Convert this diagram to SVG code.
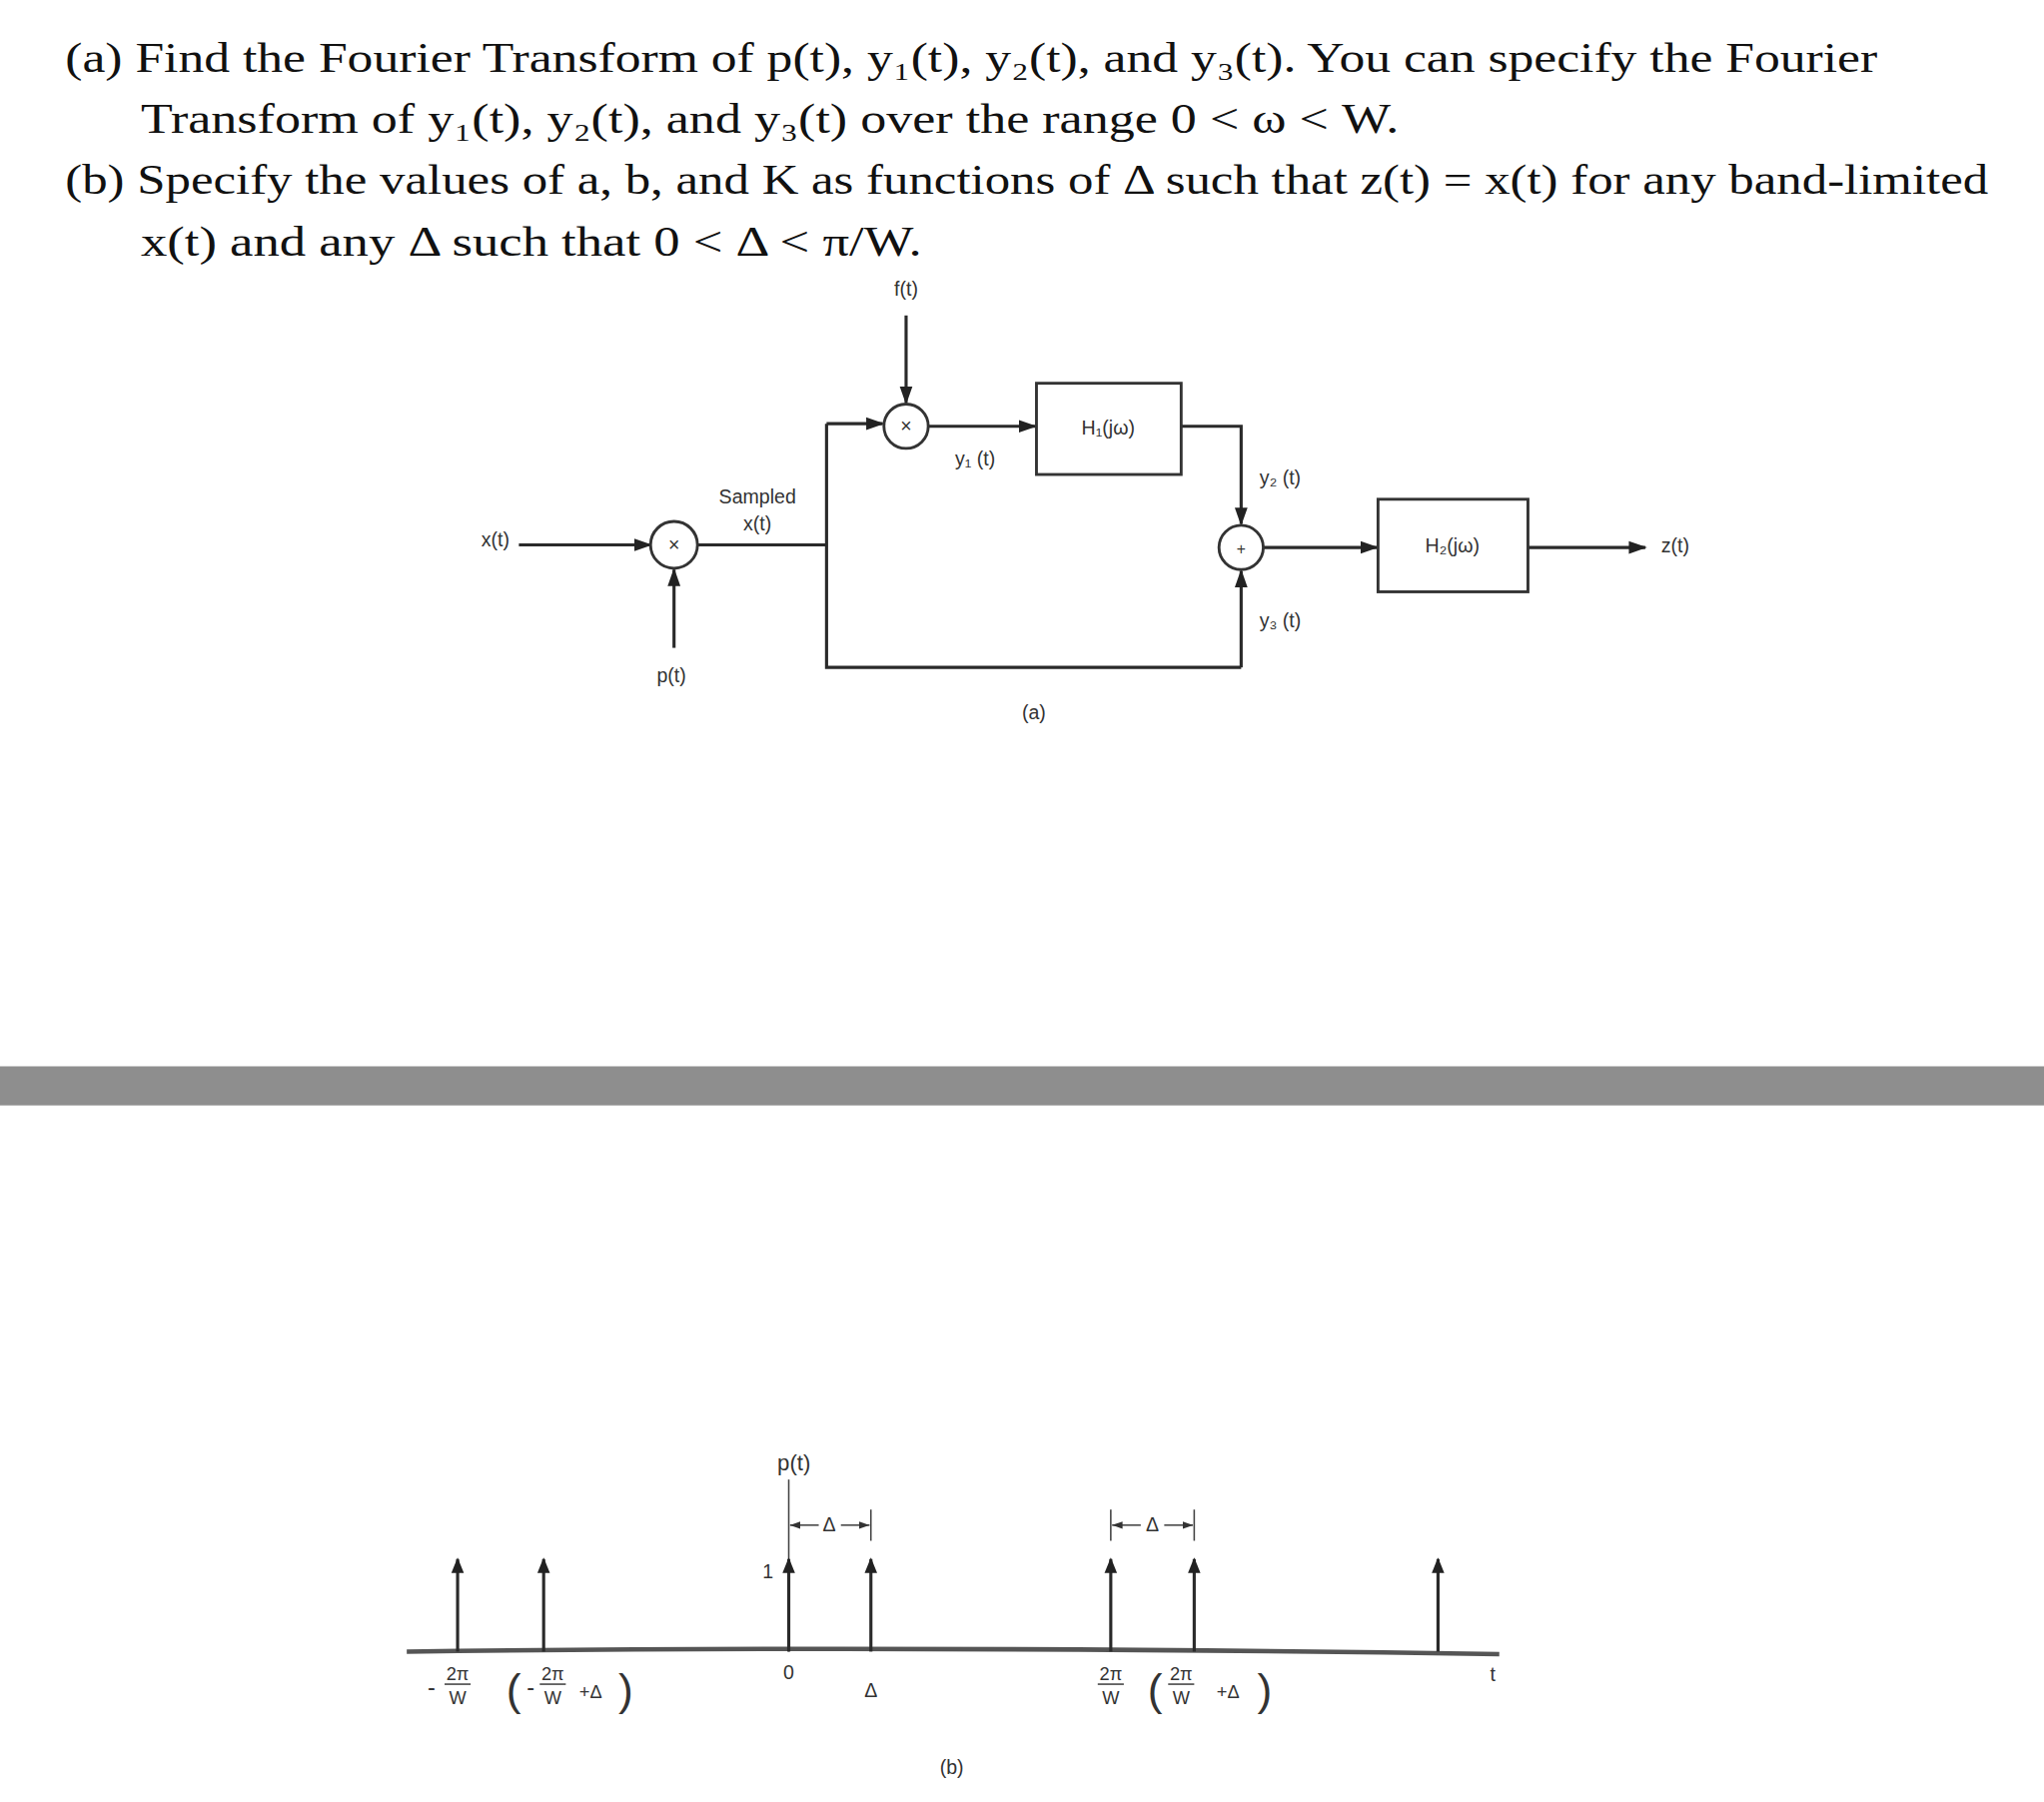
<svg xmlns="http://www.w3.org/2000/svg" width="2046" height="1804" viewBox="0 0 2046 1804">
<style>
.q{font-family:"Liberation Serif","DejaVu Serif",serif;font-size:32px;fill:#111}
.d{font-family:"Liberation Sans",Arial,sans-serif;font-size:15px;fill:#333;text-anchor:middle}
.ln{stroke:#2a2a2a;stroke-width:2.4;fill:none}
.th{stroke:#444;stroke-width:1.2;fill:none}
.bx{stroke:#333;stroke-width:2.2;fill:#fff}
</style>
<defs>
<marker id="ah" viewBox="0 0 10 10" refX="9" refY="5" markerWidth="12" markerHeight="12" orient="auto" markerUnits="userSpaceOnUse"><path d="M0,1 L10,5 L0,9 z" fill="#222"/></marker>
<marker id="ah2" viewBox="0 0 10 10" refX="9" refY="5" markerWidth="14" markerHeight="14" orient="auto" markerUnits="userSpaceOnUse"><path d="M0,1.5 L10,5 L0,8.5 z" fill="#222"/></marker>
<marker id="sa" viewBox="0 0 10 10" refX="10" refY="5" markerWidth="8" markerHeight="8" orient="auto" markerUnits="userSpaceOnUse"><path d="M0,1.5 L10,5 L0,8.5 z" fill="#333"/></marker>
</defs>
<rect width="2046" height="1804" fill="#fff"/>
<g transform="scale(1.305)">
<g id="question">
<text class="q" x="50" y="55" textLength="1390" lengthAdjust="spacingAndGlyphs">(a) Find the Fourier Transform of p(t), y₁(t), y₂(t), and y₃(t). You can specify the Fourier</text>
<text class="q" x="108" y="102" textLength="965" lengthAdjust="spacingAndGlyphs">Transform of y₁(t), y₂(t), and y₃(t) over the range 0 &lt; ω &lt; W.</text>
<text class="q" x="50" y="149" textLength="1475" lengthAdjust="spacingAndGlyphs">(b) Specify the values of a, b, and K as functions of Δ such that z(t) = x(t) for any band-limited</text>
<text class="q" x="108" y="196" textLength="599" lengthAdjust="spacingAndGlyphs">x(t) and any Δ such that 0 &lt; Δ &lt; π/W.</text>
</g>
<g id="connectors">
<path class="ln" d="M398,418 H499" marker-end="url(#ah2)"/>
<path class="ln" d="M517,497 V437" marker-end="url(#ah2)"/>
<path class="ln" d="M535,418 H634 M634,325 V512 H952"/>
<path class="ln" d="M634,325 H677" marker-end="url(#ah2)"/>
<path class="ln" d="M695,242 V309" marker-end="url(#ah2)"/>
<path class="ln" d="M712,327 H794" marker-end="url(#ah2)"/>
<path class="ln" d="M906,327 H952 V402" marker-end="url(#ah2)"/>
<path class="ln" d="M952,512 V438" marker-end="url(#ah2)"/>
<path class="ln" d="M969,420 H1056" marker-end="url(#ah2)"/>
<path class="ln" d="M1172,420 H1262" marker-end="url(#ah2)"/>
</g>
<g id="mult1"><circle class="bx" cx="517" cy="418" r="18"/><text class="d" x="517" y="423">×</text></g>
<g id="mult2"><circle class="bx" cx="695" cy="327" r="17"/><text class="d" x="695" y="332">×</text></g>
<g id="adder"><circle class="bx" cx="952" cy="420" r="17"/><text class="d" x="952" y="425" style="font-size:12px">+</text></g>
<g id="h1"><rect class="bx" x="795" y="294" width="111" height="70"/><text class="d" x="850" y="333">H₁(jω)</text></g>
<g id="h2"><rect class="bx" x="1057" y="383" width="115" height="71"/><text class="d" x="1114" y="424">H₂(jω)</text></g>
<g id="labels-a">
<text class="d" x="380" y="419">x(t)</text>
<text class="d" x="515" y="523">p(t)</text>
<text class="d" x="581" y="386">Sampled</text>
<text class="d" x="581" y="407">x(t)</text>
<text class="d" x="695" y="227">f(t)</text>
<text class="d" x="748" y="357">y₁ (t)</text>
<text class="d" x="982" y="372">y₂ (t)</text>
<text class="d" x="982" y="481">y₃ (t)</text>
<text class="d" x="1285" y="424">z(t)</text>
<text class="d" x="793" y="552">(a)</text>
</g>
<rect id="divider" x="0" y="818" width="1568" height="30" fill="#8e8e8e"/>
<g id="plot-b">
<path d="M312,1267 Q700,1262 1150,1269" stroke="#555" stroke-width="3.5" fill="none"/>
<path class="th" d="M605,1267 V1135"/>
<g class="ln">
<path d="M351,1267 V1196" marker-end="url(#ah)"/>
<path d="M417,1267 V1196" marker-end="url(#ah)"/>
<path d="M605,1267 V1196" marker-end="url(#ah)"/>
<path d="M668,1267 V1196" marker-end="url(#ah)"/>
<path d="M852,1267 V1196" marker-end="url(#ah)"/>
<path d="M916,1267 V1196" marker-end="url(#ah)"/>
<path d="M1103,1267 V1196" marker-end="url(#ah)"/>
</g>
<path class="th" d="M668,1158 V1182 M852,1158 V1182 M916,1158 V1182"/>
<path class="th" d="M628,1170 H606" marker-end="url(#sa)"/>
<path class="th" d="M645,1170 H667" marker-end="url(#sa)"/>
<path class="th" d="M875,1170 H853" marker-end="url(#sa)"/>
<path class="th" d="M893,1170 H915" marker-end="url(#sa)"/>
<text class="d" x="636" y="1175">Δ</text>
<text class="d" x="884" y="1175">Δ</text>
<text class="d" x="609" y="1128" style="font-size:17px">p(t)</text>
<text class="d" x="589" y="1211">1</text>
<text class="d" x="605" y="1288">0</text>
<text class="d" x="668" y="1302">Δ</text>
<text class="d" x="1145" y="1290">t</text>
<text class="d" x="730" y="1361">(b)</text>
<g class="d" style="font-size:14px">
<text x="331" y="1300" style="font-size:18px">-</text>
<text x="351" y="1289">2π</text><path class="th" d="M341,1292 H361"/><text x="351" y="1307">W</text>
<text x="394" y="1308" style="font-size:34px">(</text>
<text x="407" y="1300" style="font-size:18px">-</text>
<text x="424" y="1289">2π</text><path class="th" d="M414,1292 H434"/><text x="424" y="1307">W</text>
<text x="453" y="1303">+Δ</text>
<text x="480" y="1308" style="font-size:34px">)</text>
<text x="852" y="1289">2π</text><path class="th" d="M842,1292 H862"/><text x="852" y="1307">W</text>
<text x="886" y="1308" style="font-size:34px">(</text>
<text x="906" y="1289">2π</text><path class="th" d="M896,1292 H916"/><text x="906" y="1307">W</text>
<text x="942" y="1303">+Δ</text>
<text x="970" y="1308" style="font-size:34px">)</text>
</g>
</g>
</g>
</svg>
